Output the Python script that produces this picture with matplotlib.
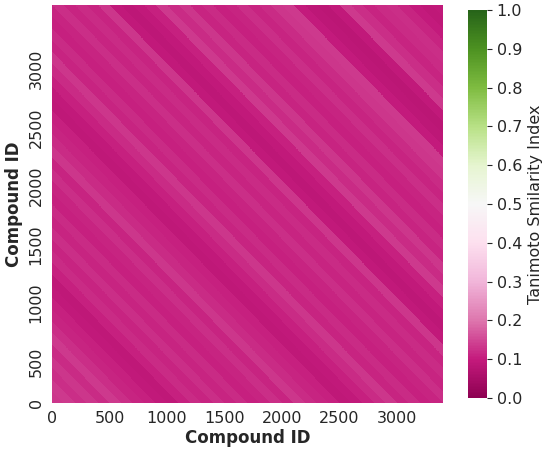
import numpy as np
import matplotlib
matplotlib.use("Agg")
import matplotlib.pyplot as plt

# number of compounds in the similarity matrix
n_compounds = 3400

# similarity read along the diagonal bands (one value per 100 steps of row+col)
band_similarity = [
    0.130, 0.136, 0.124, 0.130, 0.118, 0.136, 0.124, 0.112, 0.106, 0.094,
    0.091, 0.106, 0.118, 0.112, 0.124, 0.112, 0.118, 0.106, 0.112, 0.124,
    0.112, 0.130, 0.118, 0.112, 0.106, 0.091, 0.094, 0.106, 0.118, 0.130,
    0.112, 0.118, 0.106, 0.112, 0.124, 0.112, 0.118, 0.112, 0.130, 0.094,
    0.088, 0.094, 0.106, 0.136, 0.118, 0.130, 0.112, 0.118, 0.106, 0.112,
    0.124, 0.112, 0.118, 0.130, 0.136, 0.100, 0.088, 0.085, 0.094, 0.136,
    0.124, 0.112, 0.118, 0.124, 0.112, 0.100, 0.091, 0.094,
]
band_width = 100

x_ticks = [0, 500, 1000, 1500, 2000, 2500, 3000]
y_ticks = [0, 500, 1000, 1500, 2000, 2500, 3000]
cbar_ticks = [0.0, 0.1, 0.2, 0.3, 0.4, 0.5, 0.6, 0.7, 0.8, 0.9, 1.0]

text_color = "#262626"
plt.rcParams["font.family"] = ["DejaVu Sans"]
plt.rcParams["text.color"] = text_color
plt.rcParams["axes.labelcolor"] = text_color
plt.rcParams["xtick.color"] = text_color
plt.rcParams["ytick.color"] = text_color

profile = np.array(band_similarity)
ids = np.arange(n_compounds)
sim = profile[(ids[:, None] + ids[None, :]) // band_width]

y_offset = 145  # the y axis in the source is shifted against the matrix rows

fig = plt.figure(figsize=(5.5, 4.55), dpi=100)
ax = fig.add_axes([52 / 550, 52 / 455, 391 / 550, 398 / 455])
cax = fig.add_axes([468 / 550, 57 / 455, 19 / 550, 388 / 455])

im = ax.imshow(sim, origin="lower", cmap="PiYG", vmin=0, vmax=1,
               extent=(0, n_compounds, y_offset, y_offset + n_compounds),
               interpolation="nearest", aspect="auto")
ax.set_xlim(0, n_compounds)
ax.set_ylim(y_offset, y_offset + n_compounds)

ax.set_xticks(x_ticks)
ax.set_xticklabels([str(t) for t in x_ticks], fontsize=11.5)
ytick_pos = [max(t, y_offset) for t in y_ticks]
ax.set_yticks(ytick_pos)
ax.set_yticklabels([str(t) for t in y_ticks], fontsize=11.5,
                   rotation=90, va="center")
ax.tick_params(length=0, pad=6)
for s in ax.spines.values():
    s.set_visible(False)
ax.set_xlabel("Compound ID", fontsize=12, fontweight="bold", labelpad=2)
ax.set_ylabel("Compound ID", fontsize=12, fontweight="bold", labelpad=4)

cb = fig.colorbar(im, cax=cax)
cb.set_ticks(cbar_ticks)
cb.set_ticklabels([f"{t:.1f}" for t in cbar_ticks])
cb.ax.tick_params(labelsize=11.5, length=3.5, width=0.8, color=text_color)
cb.outline.set_visible(False)
cb.set_label("Tanimoto Smilarity Index", fontsize=11.5)

fig.savefig("out.png", dpi=100)
